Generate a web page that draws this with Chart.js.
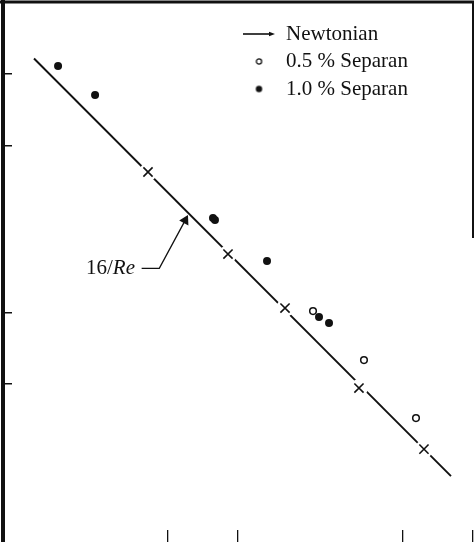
<!DOCTYPE html>
<html><head><meta charset="utf-8">
<script src="https://cdn.jsdelivr.net/npm/chart.js@4.4.1/dist/chart.umd.min.js"></script>
<style>html,body{margin:0;padding:0;background:#fff}canvas{display:block}</style>
</head><body>
<canvas id="c" width="474" height="542"></canvas>
<script>
// ---- Data (Re on x, friction factor f on y, log-log) ----
const newtonianRe = [27.1, 1612];
const newtonianF = [0.2318, 0.004118];
const markRe = [82.8, 181.3, 317.0, 654.3, 1237];
const markF = [0.0775, 0.03512, 0.02085, 0.009631, 0.005343];
const sep05Re = [417.1, 687.2, 1144];
const sep05F = [0.02025, 0.01262, 0.007207];
const sep10Re = [34.3, 49.3, 156.5, 159.6, 265.8, 442.4, 487.9];
const sep10F = [0.2158, 0.1630, 0.0497, 0.04875, 0.03282, 0.01911, 0.01804];
const xTicks = [100, 200, 1000, 2000];
const yTicks = [0.01, 0.02, 0.1, 0.2];
const xRange = [20, 2000];
const yRange = [0.00218, 0.4];
const seriesLabels = ['Newtonian', '0.5 % Separan', '1.0 % Separan'];
const noteParts = ['16/', 'Re'];
const noteRe = [45.1];
const noteF = [0.0306];
const leaderRe = [77.8, 92.5, 119.2];
const leaderF = [0.03059, 0.03059, 0.04861];
const rightEdgeTo = [0.041];

const INK = '#111';
const pts = (xs, ys) => xs.map((x, i) => ({x: x, y: ys[i]}));

function icon(w, h, draw) {
  const c = document.createElement('canvas');
  c.width = w; c.height = h;
  const g = c.getContext('2d');
  draw(g, w, h);
  return c;
}
const icons = {
  'Newtonian': icon(32, 6, (g) => {
    g.fillStyle = INK; g.fillRect(0, 2.2, 28, 1.6);
    g.beginPath(); g.moveTo(26, 0.8); g.lineTo(32, 3); g.lineTo(26, 5.2); g.closePath(); g.fill();
  }),
  '0.5 % Separan': icon(9, 9, (g) => {
    g.strokeStyle = INK; g.lineWidth = 1.3; g.fillStyle = '#fff';
    g.beginPath(); g.arc(4.5, 4.5, 2.6, 0, Math.PI * 2); g.fill(); g.stroke();
  }),
  '1.0 % Separan': icon(9, 9, (g) => {
    g.fillStyle = INK;
    g.beginPath(); g.arc(4.5, 4.5, 3.2, 0, Math.PI * 2); g.fill();
  })
};

const overlay = {
  id: 'overlay',
  afterLayout(chart) {
    const lg = chart.legend;
    if (!lg) return;
    const w = lg.width, h = lg.height;
    lg.left = chart.chartArea.left + 233;
    lg.top = chart.chartArea.top + 15;
    lg.right = lg.left + w;
    lg.bottom = lg.top + h;
  },
  afterDraw(chart) {
    const ctx = chart.ctx, xs = chart.scales.x, ys = chart.scales.y, ca = chart.chartArea;
    ctx.save();
    ctx.strokeStyle = INK;
    // top frame edge
    ctx.lineWidth = 3;
    ctx.beginPath();
    ctx.moveTo(ca.left - 3, ca.top);
    ctx.lineTo(ca.right + 1, ca.top);
    ctx.stroke();
    // partial right frame edge
    ctx.lineWidth = 2;
    ctx.beginPath();
    ctx.moveTo(ca.right, ca.top);
    ctx.lineTo(ca.right, ys.getPixelForValue(rightEdgeTo[0]));
    ctx.stroke();
    // "16/Re" note
    const px = xs.getPixelForValue(noteRe[0]);
    const py = ys.getPixelForValue(noteF[0]);
    ctx.fillStyle = INK;
    ctx.textBaseline = 'middle';
    ctx.textAlign = 'left';
    ctx.font = '21px "Liberation Serif"';
    ctx.fillText(noteParts[0], px, py);
    const w0 = ctx.measureText(noteParts[0]).width;
    ctx.font = 'italic 21px "Liberation Serif"';
    ctx.fillText(noteParts[1], px + w0, py);
    ctx.restore();
  }
};

Chart.defaults.font.family = '"Liberation Serif", serif';
Chart.defaults.color = INK;

new Chart(document.getElementById('c'), {
  type: 'scatter',
  data: {
    datasets: [
      { label: 'marks', data: pts(markRe, markF), order: 0, pointStyle: 'crossRot',
        pointRadius: 6.5, borderColor: INK, borderWidth: 1.6, backgroundColor: INK },
      { label: 'masks', data: pts(markRe, markF), order: 1, pointStyle: 'circle',
        pointRadius: 9, borderWidth: 0, backgroundColor: '#fff' },
      { label: seriesLabels[2], data: pts(sep10Re, sep10F), order: 2, pointStyle: 'circle',
        pointRadius: 4, borderWidth: 0, backgroundColor: INK },
      { label: seriesLabels[1], data: pts(sep05Re, sep05F), order: 3, pointStyle: 'circle',
        pointRadius: 3.3, borderWidth: 1.5, borderColor: INK, backgroundColor: '#fff' },
      { label: seriesLabels[0], data: pts(newtonianRe, newtonianF), order: 4, showLine: true,
        borderColor: INK, borderWidth: 1.9, pointRadius: 0, backgroundColor: INK },
      { label: 'leader', data: pts(leaderRe, leaderF), order: 5, showLine: true,
        borderColor: INK, borderWidth: 1.3, pointRadius: [0, 0, 6], pointStyle: 'triangle',
        pointRotation: 27.5, pointBorderWidth: 0, backgroundColor: INK, pointBackgroundColor: INK }
    ]
  },
  options: {
    responsive: false,
    animation: false,
    devicePixelRatio: 1,
    events: [],
    layout: { autoPadding: false, padding: { left: 3, top: 2, right: 1, bottom: 0 } },
    scales: {
      x: {
        type: 'logarithmic', min: xRange[0], max: xRange[1],
        position: { y: yRange[0] },
        ticks: { display: false },
        afterBuildTicks: (s) => { s.ticks = xTicks.map(v => ({ value: v })); },
        grid: { drawOnChartArea: false, drawTicks: true, tickLength: -12, color: INK, lineWidth: 1.3 },
        border: { display: false }
      },
      y: {
        type: 'logarithmic', min: yRange[0], max: yRange[1],
        position: { x: xRange[0] },
        ticks: { display: false },
        afterBuildTicks: (s) => { s.ticks = yTicks.map(v => ({ value: v })); },
        grid: { drawOnChartArea: false, drawTicks: true, tickLength: -11, color: INK, lineWidth: 1.5 },
        border: { display: true, width: 4, color: INK }
      }
    },
    plugins: {
      tooltip: { enabled: false },
      legend: {
        position: 'chartArea',
        align: 'start',
        labels: {
          usePointStyle: true,
          pointStyleWidth: 33,
          color: INK,
          padding: 6.5,
          font: { family: '"Liberation Serif", serif', size: 21 },
          generateLabels(chart) {
            const base = Chart.defaults.plugins.legend.labels.generateLabels(chart);
            return seriesLabels.map(name => {
              const it = base.find(b => b.text === name);
              it.pointStyle = icons[name];
              it.rotation = 0;
              it.fontColor = INK;
              return it;
            });
          }
        }
      }
    }
  },
  plugins: [overlay]
});
</script>
</body></html>
